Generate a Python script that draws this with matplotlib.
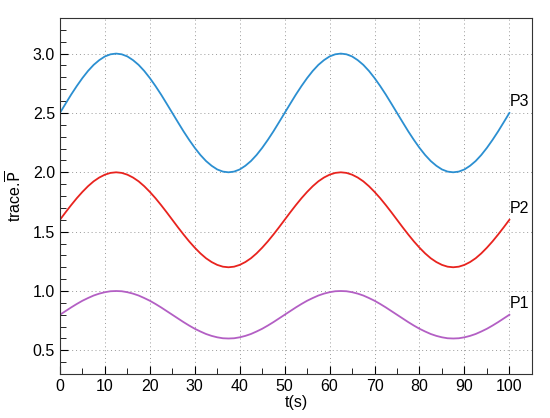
import matplotlib
matplotlib.use("Agg")
import matplotlib.pyplot as plt
from matplotlib.ticker import MultipleLocator, FormatStrFormatter

plt.rcParams['font.family'] = ['Liberation Sans', 'DejaVu Sans']

t = [i * 1.25 for i in range(81)]
p1_cycle = [0.800, 0.831, 0.862, 0.891, 0.918, 0.941, 0.962, 0.978, 0.990, 0.998,
            1.000, 0.998, 0.990, 0.978, 0.962, 0.941, 0.918, 0.891, 0.862, 0.831,
            0.800, 0.769, 0.738, 0.709, 0.682, 0.659, 0.638, 0.622, 0.610, 0.602,
            0.600, 0.602, 0.610, 0.622, 0.638, 0.659, 0.682, 0.709, 0.738, 0.769]
p2_cycle = [1.600, 1.663, 1.724, 1.782, 1.835, 1.883, 1.924, 1.956, 1.980, 1.995,
            2.000, 1.995, 1.980, 1.956, 1.924, 1.883, 1.835, 1.782, 1.724, 1.663,
            1.600, 1.537, 1.476, 1.418, 1.365, 1.317, 1.276, 1.244, 1.220, 1.205,
            1.200, 1.205, 1.220, 1.244, 1.276, 1.317, 1.365, 1.418, 1.476, 1.537]
p3_cycle = [2.500, 2.578, 2.655, 2.727, 2.794, 2.854, 2.905, 2.945, 2.976, 2.994,
            3.000, 2.994, 2.976, 2.945, 2.905, 2.854, 2.794, 2.727, 2.655, 2.578,
            2.500, 2.422, 2.345, 2.273, 2.206, 2.146, 2.095, 2.055, 2.024, 2.006,
            2.000, 2.006, 2.024, 2.055, 2.095, 2.146, 2.206, 2.273, 2.345, 2.422]
# the traces repeat exactly over two periods
p1 = p1_cycle * 2 + [0.800]
p2 = p2_cycle * 2 + [1.600]
p3 = p3_cycle * 2 + [2.500]
names = ["P1", "P2", "P3"]
colors = ["#b35fc4", "#e8231e", "#2b8fd1"]

fig = plt.figure(figsize=(5.5, 4.18), dpi=100)
ax = fig.add_axes([0.109, 0.105, 0.858, 0.852])

for y, name, c in zip([p1, p2, p3], names, colors):
    ax.plot(t, y, color=c, lw=1.3)
    ax.text(t[-1], y[-1] + 0.03, name, fontsize=11.5, ha='left', va='bottom')

ax.set_xlim(0, 105)
ax.set_ylim(0.3, 3.3)
ax.xaxis.set_major_locator(MultipleLocator(10))
ax.xaxis.set_minor_locator(MultipleLocator(5))
ax.yaxis.set_major_locator(MultipleLocator(0.5))
ax.yaxis.set_minor_locator(MultipleLocator(0.1))
ax.yaxis.set_major_formatter(FormatStrFormatter('%.1f'))
ax.tick_params(which='both', direction='in', top=False, right=False, labelsize=11.5)
ax.tick_params(which='major', length=6)
ax.tick_params(which='minor', length=4)
ax.grid(True, which='major', linestyle=(0, (1, 3)), color='#999999', lw=0.7)
for s in ax.spines.values():
    s.set_color('#333333')

ax.set_xlabel("t(s)", fontsize=11.5, labelpad=1)
ax.set_ylabel(r"trace.$\overline{\mathrm{P}}$", fontsize=11.5, labelpad=6)

fig.savefig("out.png", dpi=100)
